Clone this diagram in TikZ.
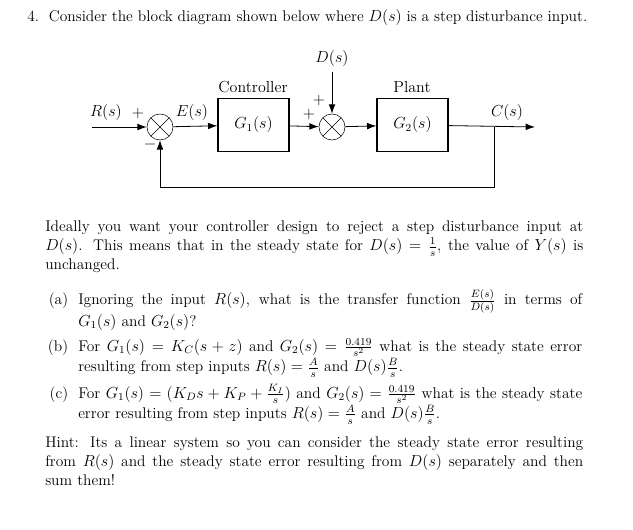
\documentclass[tikz,border=0pt]{standalone}
\usepackage{amsmath}
\usetikzlibrary{arrows.meta}
\begin{document}
\begin{tikzpicture}[x=0.75pt,y=-0.75pt,
  blk/.style={draw,line width=1.2pt,minimum width=53pt,minimum height=40pt,inner sep=0pt,font=\fontsize{12}{14}\selectfont},
  sumj/.style={draw,circle,minimum size=19.5pt,inner sep=0pt,path picture={\draw (path picture bounding box.north west)--(path picture bounding box.south east) (path picture bounding box.north east)--(path picture bounding box.south west);}},
  sig/.style={-{Latex[length=7pt,width=5pt]},line width=0.6pt},
  txt/.style={anchor=north west,inner sep=0pt,align=justify,font=\fontsize{11.6}{14.25}\selectfont},
  lab/.style={font=\fontsize{12}{14}\selectfont}]
\useasboundingbox (0,0) rectangle (633,530);
\node[txt,text width=420pt] (t0) at (27,9) {4.\ \ Consider the block diagram shown below where $D(s)$ is a step disturbance input.};
% diagram
\node[sumj] (s1) at (160,127) {};
\node[sumj] (s2) at (332,127) {};
\node[blk] (g1) at (253.5,125) {$G_1(s)$};
\node[blk] (g2) at (412.5,125) {$G_2(s)$};
\coordinate (rin) at (92,127);
\coordinate (cout) at (535,127);
\coordinate (br) at (494,127);
\coordinate (bb) at (494,187);
\coordinate (ba) at (160,187);
\coordinate (din) at (332,72);
\draw[sig] (rin) -- (s1);
\draw[sig] (s1) -- (g1);
\draw[sig] (g1) -- (s2);
\draw[sig] (s2) -- (g2);
\draw[sig] (g2) -- (cout);
\draw[sig] (br) -- (bb) -- (ba) -- (s1);
\draw[sig] (din) -- (s2);
\node[lab] (lr) at (106,113) {$R(s)$};
\node[lab] (lp1) at (138,114) {$+$};
\node[lab] (lm1) at (150,145) {$-$};
\node[lab] (le) at (192,113) {$E(s)$};
\node[lab] (lc) at (253,87) {Controller};
\node[lab] (lpl) at (412,87) {Plant};
\node[lab] (ld) at (332,59) {$D(s)$};
\node[lab] (lp2) at (319,101) {$+$};
\node[lab] (lp3) at (309,115) {$+$};
\node[lab] (lco) at (507,113) {$C(s)$};
% text
\node[txt,text width=403.5pt] (t1) at (45,221) {Ideally you want your controller design to reject a step disturbance input at\linebreak $D(s)$. This means that in the steady state for $D(s)=\frac{1}{s}$, the value of $Y(s)$ is\linebreak unchanged.};
\node[txt,text width=378pt] (ta) at (78,289) {\llap{(a)\ \ }Ignoring the input $R(s)$, what is the transfer function $\frac{E(s)}{D(s)}$ in terms of\linebreak $G_1(s)$ and $G_2(s)$?};
\node[txt,text width=378pt] (tb) at (78,338) {\llap{(b)\ \ }For $G_1(s)=K_C(s+z)$ and $G_2(s)=\frac{0.419}{s^2}$ what is the steady state error resulting from step inputs $R(s)=\frac{A}{s}$ and $D(s)\frac{B}{s}$.};
\node[txt,text width=378pt] (tc) at (78,384) {\llap{(c)\ \ }For $G_1(s)=(K_Ds+K_P+\frac{K_I}{s})$ and $G_2(s)=\frac{0.419}{s^2}$ what is the steady state error resulting from step inputs $R(s)=\frac{A}{s}$ and $D(s)\frac{B}{s}$.};
\node[txt,text width=403.5pt] (th) at (45,437) {Hint: Its a linear system so you can consider the steady state error resulting\linebreak from $R(s)$ and the steady state error resulting from $D(s)$ separately and then\linebreak sum them!};
\end{tikzpicture}
\end{document}
